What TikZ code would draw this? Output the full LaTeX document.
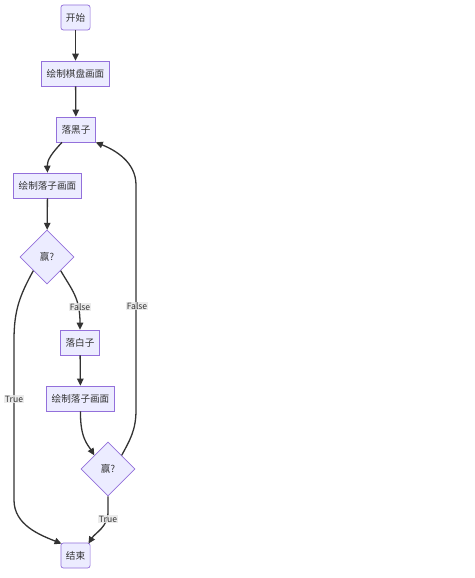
\documentclass[tikz,border=0pt]{standalone}
\usepackage{fontspec}
\setmainfont{Noto Sans CJK SC}
\usetikzlibrary{shapes.geometric,arrows.meta,calc}
\definecolor{nodefill}{HTML}{ECECFF}
\definecolor{nodeline}{HTML}{9370DB}
\definecolor{txt}{HTML}{333333}
\definecolor{lblbg}{HTML}{E8E8E8}
\begin{document}
\begin{tikzpicture}[x=1pt,y=-1pt,
  boxnode/.style={draw=nodeline,fill=nodefill,line width=0.7pt,rounded corners=0pt,
    minimum height=25pt,inner xsep=5pt,inner ysep=0pt,text=txt,font=\fontsize{9.6}{11}\selectfont},
  startnode/.style={boxnode,rounded corners=2.5pt},
  decnode/.style={diamond,aspect=1,draw=nodeline,fill=nodefill,line width=0.7pt,
    minimum width=54pt,minimum height=54pt,inner sep=0pt,text=txt,font=\fontsize{9.6}{11}\selectfont},
  lbl/.style={fill=lblbg,fill opacity=0.8,text opacity=1,text=txt,inner sep=1pt,
    font=\fontsize{8.6}{10}\selectfont},
  edge/.style={draw=txt,line width=1.3pt,-{Triangle[length=7pt,width=6.5pt]}}]
\useasboundingbox[fill=white] (0,0) rectangle (474,578);

\node[startnode] (s) at (75.5,17.5) {开始};
\node[boxnode] (c1) at (75.5,73.5) {绘制棋盘画面};
\node[boxnode] (b) at (76,129.5) {落黑子};
\node[boxnode] (p1) at (47.5,185.5) {绘制落子画面};
\node[decnode] (d1) at (47,257) {赢?};
\node[boxnode] (w) at (80,342.5) {落白子};
\node[boxnode] (p2) at (80.5,398.5) {绘制落子画面};
\node[decnode] (d2) at (108,469) {赢?};
\node[startnode] (e) at (75.5,555.5) {结束};

\draw[edge] (s) -- (c1);
\draw[edge] (c1) -- (b);
\draw[edge] ($(b.south)+(-14,0)$) .. controls (52,153) and (47,160) .. (p1.north);
\draw[edge] (p1) -- (d1);
\draw[edge] (d1.south east) .. controls (72,290) and (80,298) .. (w.north);
\draw[edge] (d1.south west) .. controls (20,295) and (14,310) .. (14,340) -- (14,500)
  .. controls (14,525) and (40,535) .. ($(e.north west)+(1,1)$);
\draw[edge] (w) -- (p2);
\draw[edge] (p2.south) .. controls (80,438) and (88,445) .. (d2.north west);
\draw[edge] (d2.south) -- (108,512) .. controls (108,527) and (95,533) .. ($(e.north east)+(-2,1)$);
\draw[edge] (d2.north east) .. controls (130,440) and (136,430) .. (136,410) -- (136,185)
  .. controls (136,162) and (115,150) .. ($(b.south east)+(0,0)$);

\node[lbl] (f1) at (80,307) {False};
\node[lbl] (t1) at (14,399) {True};
\node[lbl] (t2) at (108,519) {True};
\node[lbl] (f2) at (137,306) {False};
\end{tikzpicture}
\end{document}
